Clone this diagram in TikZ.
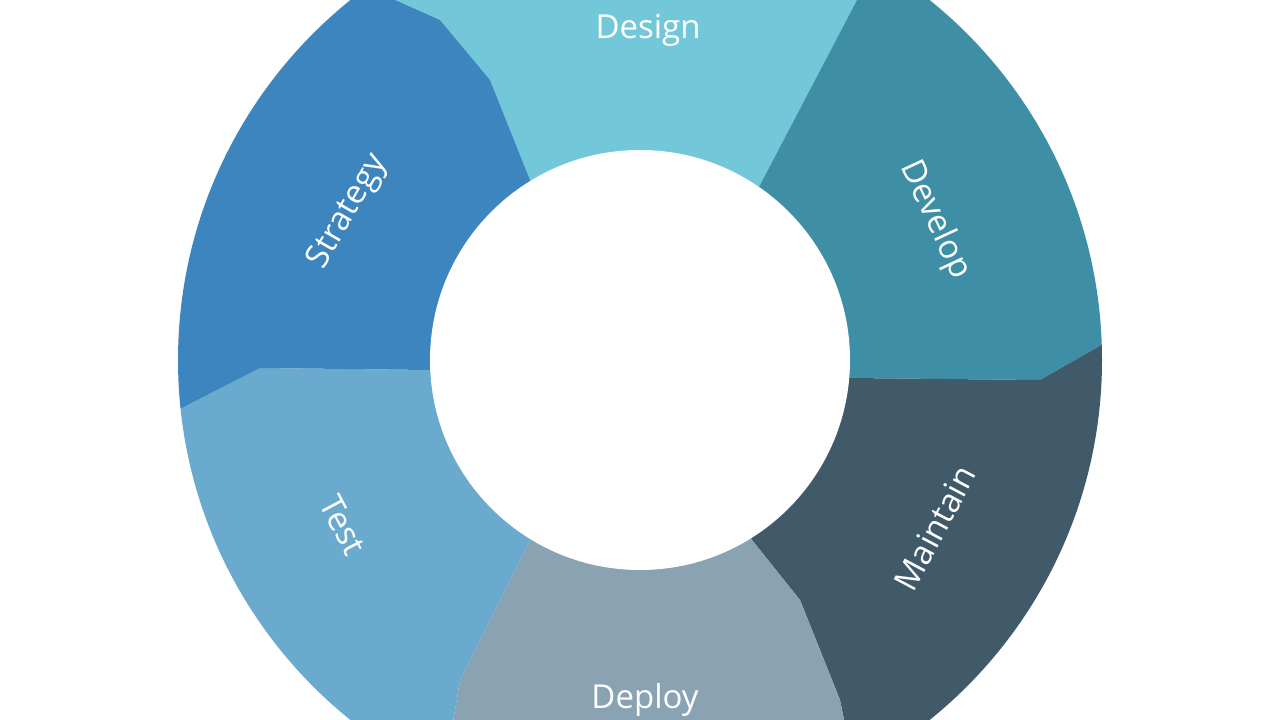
\documentclass[tikz,border=0pt]{standalone}
\usepackage{fontspec}
\setmainfont{Open Sans}
\usetikzlibrary{positioning}
\definecolor{cDesign}{HTML}{72C8D8}
\definecolor{cDevelop}{HTML}{3E8FA6}
\definecolor{cMaintain}{HTML}{405A6A}
\definecolor{cDeploy}{HTML}{89A3B3}
\definecolor{cTest}{HTML}{6AAACE}
\definecolor{cStrategy}{HTML}{3D85BF}
\tikzset{lbl/.style={text=white, font=\fontsize{33}{36}\selectfont}}

\begin{document}
\begin{tikzpicture}[x=1pt,y=-1pt]
\useasboundingbox (0,0) rectangle (1280,720);
\coordinate (c) at (640,360);

\begin{scope}
\clip (c) circle[radius=462];
\fill[cDesign] (c) -- (530,180) -- (490,80) -- (440,20) -- (350,-20) -- (640,-200) -- (880,-100) -- (857,0) -- (760,185) -- cycle;
\fill[cDevelop] (c) -- (760,185) -- (857,0) -- (880,-100) -- (1300,-100) -- (1300,300) -- (1200,300) -- (1110,340) -- (1040,380) -- (850,378) -- cycle;
\fill[cMaintain] (c) -- (850,378) -- (1040,380) -- (1110,340) -- (1200,300) -- (1300,800) -- (860,800) -- (840,700) -- (800,600) -- (752,540) -- cycle;
\fill[cDeploy] (c) -- (752,540) -- (800,600) -- (840,700) -- (860,800) -- (440,800) -- (460,680) -- (530,540) -- cycle;
\fill[cTest] (c) -- (530,540) -- (460,680) -- (440,800) -- (0,800) -- (100,420) -- (178,410) -- (260,368) -- (430,370) -- cycle;
\fill[cStrategy] (c) -- (430,370) -- (260,368) -- (178,410) -- (100,420) -- (0,-100) -- (350,-20) -- (440,20) -- (490,80) -- (530,180) -- cycle;
\end{scope}
\fill[white] (c) circle[radius=210];

\node[lbl] (design) at (648,30) {Design};
\node[lbl, rotate=-65] (develop) at (935,220) {Develop};
\node[lbl, rotate=62] (maintain) at (935,528) {Maintain};
\node[lbl] (deploy) at (645,700) {Deploy};
\node[lbl, rotate=-62] (test) at (343,525) {Test};
\node[lbl, rotate=60] (strategy) at (348,212) {Strategy};
\end{tikzpicture}
\end{document}
